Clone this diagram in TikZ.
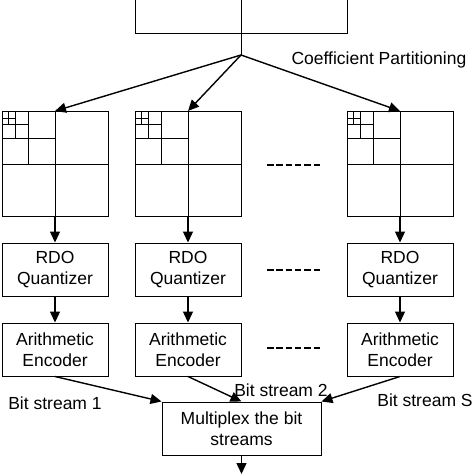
\documentclass[tikz,border=0pt]{standalone}
\usepackage{fontspec}
\setmainfont{Liberation Sans}
\usetikzlibrary{arrows.meta}
\usetikzlibrary{shapes}

\begin{document}
\begin{tikzpicture}[x=1pt, y=-1pt,
font=\fontsize{17.5}{21.5}\selectfont,
box/.style={draw, line width=1pt, inner sep=0pt, align=center,
  minimum width=106pt, minimum height=53pt},
link/.style={line width=1.4pt, -{Triangle[length=11pt,width=10pt]}},
gap/.style={line width=2pt, dash pattern=on 6.5pt off 2.8pt}]
\useasboundingbox (0,0) rectangle (474,474);
\node [box, minimum width=212pt, minimum height=50pt] (top) at (241,8) {};
\coordinate (split) at (241,55);
\draw [line width=1pt] (top.north) -- (split);
\foreach \c/\x in {1/55,2/188,3/400} {
  \node [box, minimum height=105pt] (grid\c) at (\x,164) {};
  \foreach \s in {106,53,26.5,13.25} {
    \draw [line width=1pt] (\x-53+\s/2,111.5) -- ++(0,\s);
    \draw [line width=1pt] (\x-53,111.5+\s/2) -- ++(\s,0);
  }
  \node [box] (rdo\c) at (\x,269.5) {RDO\\Quantizer};
  \node [box] (arith\c) at (\x,349.5) {Arithmetic\\Encoder};
  \draw [link] (split) -- (grid\c.north);
  \draw [link] (grid\c.south) -- (rdo\c.north);
  \draw [link] (rdo\c.south) -- (arith\c.north);
}
\node [box, minimum width=159pt] (mux) at (241.5,428.5) {Multiplex the bit\\streams};
\coordinate (out) at (241.5,474);
\draw [link] (arith1.south) -- (mux.north west);
\draw [link] (arith2.south) -- (mux.north);
\draw [link] (arith3.south) -- (mux.north east);
\draw [link] (mux.south) -- (out);
\node [anchor=west] (coef) at (288,60) {Coefficient Partitioning};
\node (bs1) at (55,403) {Bit stream 1};
\node (bs2) at (281,390) {Bit stream 2};
\node (bsS) at (425,400) {Bit stream S};
\foreach \y in {165,270,348}
  \draw [gap] (267,\y) -- (320,\y);
\end{tikzpicture}
\end{document}
